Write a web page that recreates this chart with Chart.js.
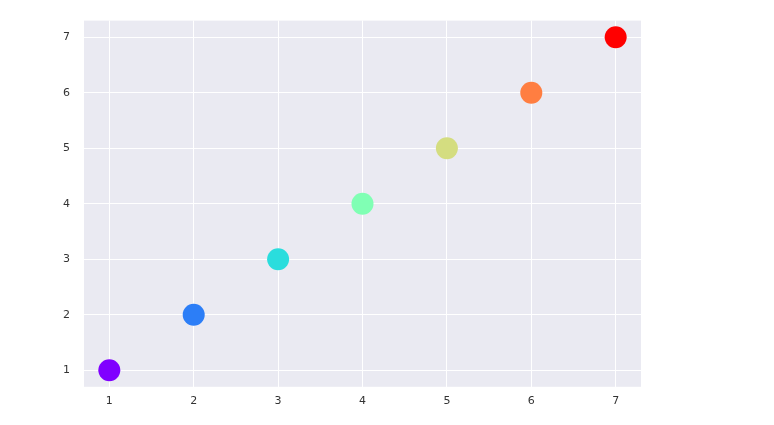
<!DOCTYPE html>
<html>
<head>
<meta charset="utf-8">
<script src="https://cdn.jsdelivr.net/npm/chart.js@4/dist/chart.umd.min.js"></script>
<style>
  html, body { margin: 0; padding: 0; background: #fff; }
  #wrap { position: relative; width: 774px; height: 425px; }
</style>
</head>
<body>
<div id="wrap"><canvas id="chart"></canvas></div>
<script>
// dados do gráfico
const xValues = [1, 2, 3, 4, 5, 6, 7];
const yValues = [1, 2, 3, 4, 5, 6, 7];
const pointColors = ['#8000ff', '#2c7ef7', '#2adddd', '#80ffb4', '#d4dd80', '#ff7e41', '#ff0000'];
const tickValues = [1, 2, 3, 4, 5, 6, 7];

// fundo cinza-azulado da área do gráfico
const plotBg = {
    id: 'plotBg',
    beforeDraw(chart) {
        const { ctx, chartArea: a } = chart;
        ctx.save();
        ctx.fillStyle = '#eaeaf2';
        ctx.fillRect(a.left, a.top, a.right - a.left, a.bottom - a.top);
        ctx.restore();
    }
};

const ctx = document.getElementById('chart').getContext('2d');
new Chart(ctx, {
    type: 'scatter',
    data: {
        datasets: [{
            data: xValues.map((x, i) => ({ x: x, y: yValues[i] })),
            backgroundColor: pointColors,
            borderWidth: 0,
            pointRadius: 11,
            pointHoverRadius: 11
        }]
    },
    options: {
        responsive: true,
        maintainAspectRatio: false,
        animation: false,
        layout: { padding: { left: 49, right: 133, top: 8, bottom: 9 } },
        plugins: { legend: { display: false }, tooltip: { enabled: false } },
        scales: {
            x: {
                min: 0.7, max: 7.3,
                afterBuildTicks: s => { s.ticks = tickValues.map(v => ({ value: v })); },
                grid: { color: '#ffffff', lineWidth: 1, drawTicks: false },
                border: { display: false },
                ticks: { color: '#333', font: { family: 'DejaVu Sans', size: 11 }, padding: 8 }
            },
            y: {
                min: 0.7, max: 7.3,
                afterBuildTicks: s => { s.ticks = tickValues.map(v => ({ value: v })); },
                grid: { color: '#ffffff', lineWidth: 1, drawTicks: false },
                border: { display: false },
                ticks: { color: '#333', font: { family: 'DejaVu Sans', size: 11 }, padding: 14 }
            }
        }
    },
    plugins: [plotBg]
});
</script>
</body>
</html>
